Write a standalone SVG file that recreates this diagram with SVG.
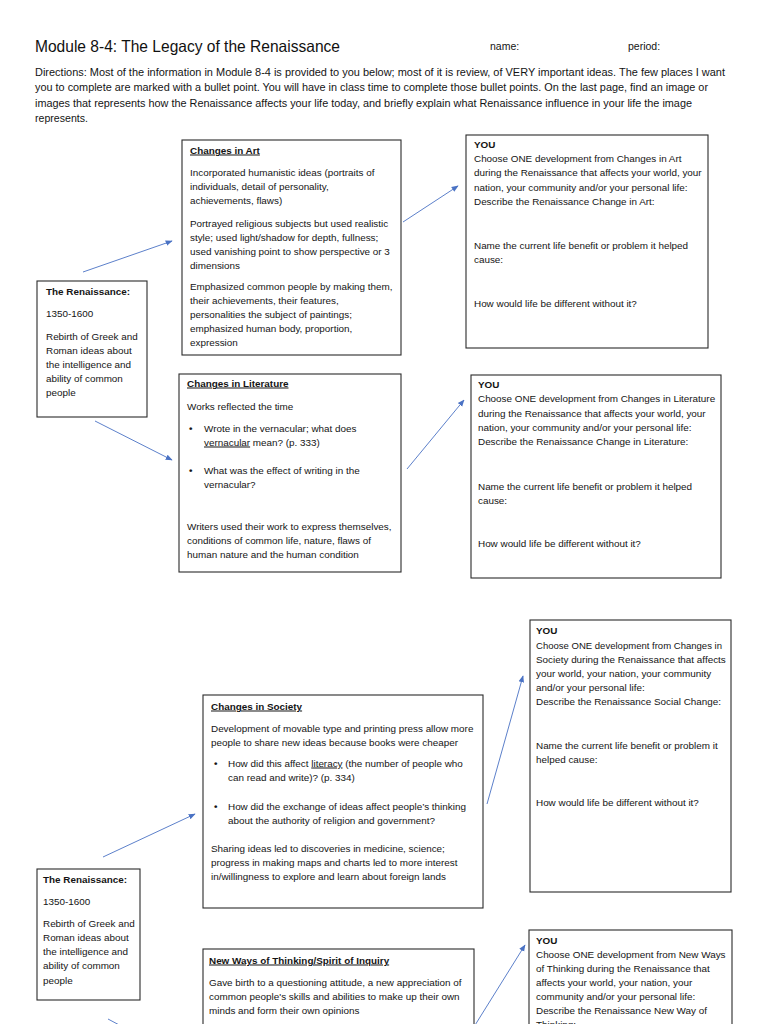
<svg xmlns="http://www.w3.org/2000/svg" width="768" height="1024" viewBox="0 0 768 1024">
<style>
.bg{fill:#ffffff}
.box{fill:#ffffff;stroke:#2a2a2a;stroke-width:1.1}
.t{font-family:"Liberation Sans",Arial,sans-serif;font-size:9.9px;fill:#141414}
.b{font-weight:bold}
.u{text-decoration:underline}
.h{font-family:"Liberation Sans",Arial,sans-serif;font-size:10.5px;fill:#141414}
.title{font-family:"Liberation Sans",Arial,sans-serif;font-size:16.5px;fill:#111}
.arr{stroke:#4a72c4;stroke-width:0.9;fill:none;marker-end:url(#ah)}
</style>
<defs>
<marker id="ah" viewBox="0 0 10 10" refX="9" refY="5" markerWidth="7" markerHeight="7" orient="auto" markerUnits="userSpaceOnUse">
<path d="M0,1 L10,5 L0,9 z" fill="#4a72c4"/>
</marker>
</defs>
<rect class="bg" x="0" y="0" width="768" height="1024"/>

<g id="header">
<text class="title" x="35" y="52" textLength="305" lengthAdjust="spacingAndGlyphs">Module 8-4: The Legacy of the Renaissance</text>
<text class="h" x="490" y="50">name:</text>
<text class="h" x="628" y="50">period:</text>
<text class="h" x="35" y="76" textLength="690" lengthAdjust="spacingAndGlyphs">Directions: Most of the information in Module 8-4 is provided to you below; most of it is review, of VERY important ideas. The few places I want</text>
<text class="h" x="35" y="91" textLength="673" lengthAdjust="spacingAndGlyphs">you to complete are marked with a bullet point. You will have in class time to complete those bullet points. On the last page, find an image or</text>
<text class="h" x="35" y="107" textLength="657" lengthAdjust="spacingAndGlyphs">images that represents how the Renaissance affects your life today, and briefly explain what Renaissance influence in your life the image</text>
<text class="h" x="35" y="122" textLength="53" lengthAdjust="spacingAndGlyphs">represents.</text>
</g>

<g id="connectors">
<line class="arr" x1="83" y1="272" x2="172" y2="241"/>
<line class="arr" x1="95" y1="421" x2="172" y2="460"/>
<line class="arr" x1="403" y1="222" x2="458" y2="186"/>
<line class="arr" x1="407" y1="469" x2="464" y2="400"/>
<line class="arr" x1="103" y1="857" x2="195" y2="814"/>
<line class="arr" x1="487" y1="804" x2="523" y2="676"/>
<line class="arr" x1="108" y1="1019" x2="140" y2="1036"/>
<line class="arr" x1="472" y1="1030" x2="525" y2="945"/>
</g>

<g id="art">
<rect class="box" x="182" y="140" width="219" height="215"/>
<text class="t b u" x="190" y="153.5">Changes in Art</text>
<text class="t" x="190" y="175.5">Incorporated humanistic ideas (portraits of</text>
<text class="t" x="190" y="189.5">individuals, detail of personality,</text>
<text class="t" x="190" y="203.5">achievements, flaws)</text>
<text class="t" x="190" y="226.5">Portrayed religious subjects but used realistic</text>
<text class="t" x="190" y="240.5">style; used light/shadow for depth, fullness;</text>
<text class="t" x="190" y="254.5">used vanishing point to show perspective or 3</text>
<text class="t" x="190" y="268.5">dimensions</text>
<text class="t" x="190" y="289.5">Emphasized common people by making them,</text>
<text class="t" x="190" y="303.5">their achievements, their features,</text>
<text class="t" x="190" y="317.5">personalities the subject of paintings;</text>
<text class="t" x="190" y="331.5">emphasized human body, proportion,</text>
<text class="t" x="190" y="345.5">expression</text>
</g>

<g id="you-art">
<rect class="box" x="466" y="135" width="242" height="213"/>
<text class="t b" x="474" y="147.5">YOU</text>
<text class="t" x="474" y="161.5">Choose ONE development from Changes in Art</text>
<text class="t" x="474" y="175.5">during the Renaissance that affects your world, your</text>
<text class="t" x="474" y="190.5">nation, your community and/or your personal life:</text>
<text class="t" x="474" y="204.5">Describe the Renaissance Change in Art:</text>
<text class="t" x="474" y="248.5">Name the current life benefit or problem it helped</text>
<text class="t" x="474" y="262.5">cause:</text>
<text class="t" x="474" y="306.5">How would life be different without it?</text>
</g>

<g id="renaissance-1">
<rect class="box" x="37" y="281" width="110" height="136"/>
<text class="t b" x="46" y="294.5">The Renaissance:</text>
<text class="t" x="46" y="316.5">1350-1600</text>
<text class="t" x="46" y="339.5">Rebirth of Greek and</text>
<text class="t" x="46" y="353.5">Roman ideas about</text>
<text class="t" x="46" y="367.5">the intelligence and</text>
<text class="t" x="46" y="381.5">ability of common</text>
<text class="t" x="46" y="395.5">people</text>
</g>

<g id="literature">
<rect class="box" x="179" y="374" width="222" height="198"/>
<text class="t b u" x="187" y="386.5">Changes in Literature</text>
<text class="t" x="187" y="409.5">Works reflected the time</text>
<text class="t b" x="189" y="431.5">•</text>
<text class="t" x="204" y="431.5">Wrote in the vernacular; what does</text>
<text class="t" x="204" y="445.5"><tspan class="u">vernacular</tspan> mean? (p. 333)</text>
<text class="t b" x="189" y="473.5">•</text>
<text class="t" x="204" y="473.5">What was the effect of writing in the</text>
<text class="t" x="204" y="487.5">vernacular?</text>
<text class="t" x="187" y="529.5">Writers used their work to express themselves,</text>
<text class="t" x="187" y="543.5">conditions of common life, nature, flaws of</text>
<text class="t" x="187" y="557.5">human nature and the human condition</text>
</g>

<g id="you-literature">
<rect class="box" x="471" y="375" width="250" height="203"/>
<text class="t b" x="478" y="387.5">YOU</text>
<text class="t" x="478" y="401.5">Choose ONE development from Changes in Literature</text>
<text class="t" x="478" y="416.5">during the Renaissance that affects your world, your</text>
<text class="t" x="478" y="430.5">nation, your community and/or your personal life:</text>
<text class="t" x="478" y="444.5">Describe the Renaissance Change in Literature:</text>
<text class="t" x="478" y="489.5">Name the current life benefit or problem it helped</text>
<text class="t" x="478" y="503.5">cause:</text>
<text class="t" x="478" y="546.5">How would life be different without it?</text>
</g>

<g id="you-society">
<rect class="box" x="530" y="620" width="201" height="272"/>
<text class="t b" x="536" y="633.5">YOU</text>
<text class="t" x="536" y="648.5" textLength="186" lengthAdjust="spacingAndGlyphs">Choose ONE development from Changes in</text>
<text class="t" x="536" y="662.5">Society during the Renaissance that affects</text>
<text class="t" x="536" y="676.5">your world, your nation, your community</text>
<text class="t" x="536" y="690.5">and/or your personal life:</text>
<text class="t" x="536" y="704.5">Describe the Renaissance Social Change:</text>
<text class="t" x="536" y="748.5">Name the current life benefit or problem it</text>
<text class="t" x="536" y="762.5">helped cause:</text>
<text class="t" x="536" y="805.5">How would life be different without it?</text>
</g>

<g id="society">
<rect class="box" x="203" y="695" width="280" height="213"/>
<text class="t b u" x="211" y="709.5">Changes in Society</text>
<text class="t" x="211" y="731.5">Development of movable type and printing press allow more</text>
<text class="t" x="211" y="745.5">people to share new ideas because books were cheaper</text>
<text class="t b" x="214" y="766.5">•</text>
<text class="t" x="228" y="766.5">How did this affect <tspan class="u">literacy</tspan> (the number of people who</text>
<text class="t" x="228" y="780.5">can read and write)? (p. 334)</text>
<text class="t b" x="214" y="809.5">•</text>
<text class="t" x="228" y="809.5">How did the exchange of ideas affect people’s thinking</text>
<text class="t" x="228" y="823.5">about the authority of religion and government?</text>
<text class="t" x="211" y="851.5">Sharing ideas led to discoveries in medicine, science;</text>
<text class="t" x="211" y="865.5">progress in making maps and charts led to more interest</text>
<text class="t" x="211" y="879.5">in/willingness to explore and learn about foreign lands</text>
</g>

<g id="renaissance-2">
<rect class="box" x="37" y="869" width="103" height="131"/>
<text class="t b" x="43" y="882.5">The Renaissance:</text>
<text class="t" x="43" y="904.5">1350-1600</text>
<text class="t" x="43" y="926.5">Rebirth of Greek and</text>
<text class="t" x="43" y="940.5">Roman ideas about</text>
<text class="t" x="43" y="954.5">the intelligence and</text>
<text class="t" x="43" y="968.5">ability of common</text>
<text class="t" x="43" y="983.5">people</text>
</g>

<g id="new-ways">
<rect class="box" x="203" y="949" width="271" height="90"/>
<text class="t b u" x="209" y="963.5">New Ways of Thinking/Spirit of Inquiry</text>
<text class="t" x="209" y="985.5">Gave birth to a questioning attitude, a new appreciation of</text>
<text class="t" x="209" y="999.5">common people's skills and abilities to make up their own</text>
<text class="t" x="209" y="1013.5">minds and form their own opinions</text>
</g>

<g id="you-new-ways">
<rect class="box" x="529" y="930" width="203" height="110"/>
<text class="t b" x="536" y="943.5">YOU</text>
<text class="t" x="536" y="957.5">Choose ONE development from New Ways</text>
<text class="t" x="536" y="971.5">of Thinking during the Renaissance that</text>
<text class="t" x="536" y="985.5">affects your world, your nation, your</text>
<text class="t" x="536" y="999.5">community and/or your personal life:</text>
<text class="t" x="536" y="1013.5">Describe the Renaissance New Way of</text>
<text class="t" x="536" y="1027.5">Thinking:</text>
</g>
</svg>
